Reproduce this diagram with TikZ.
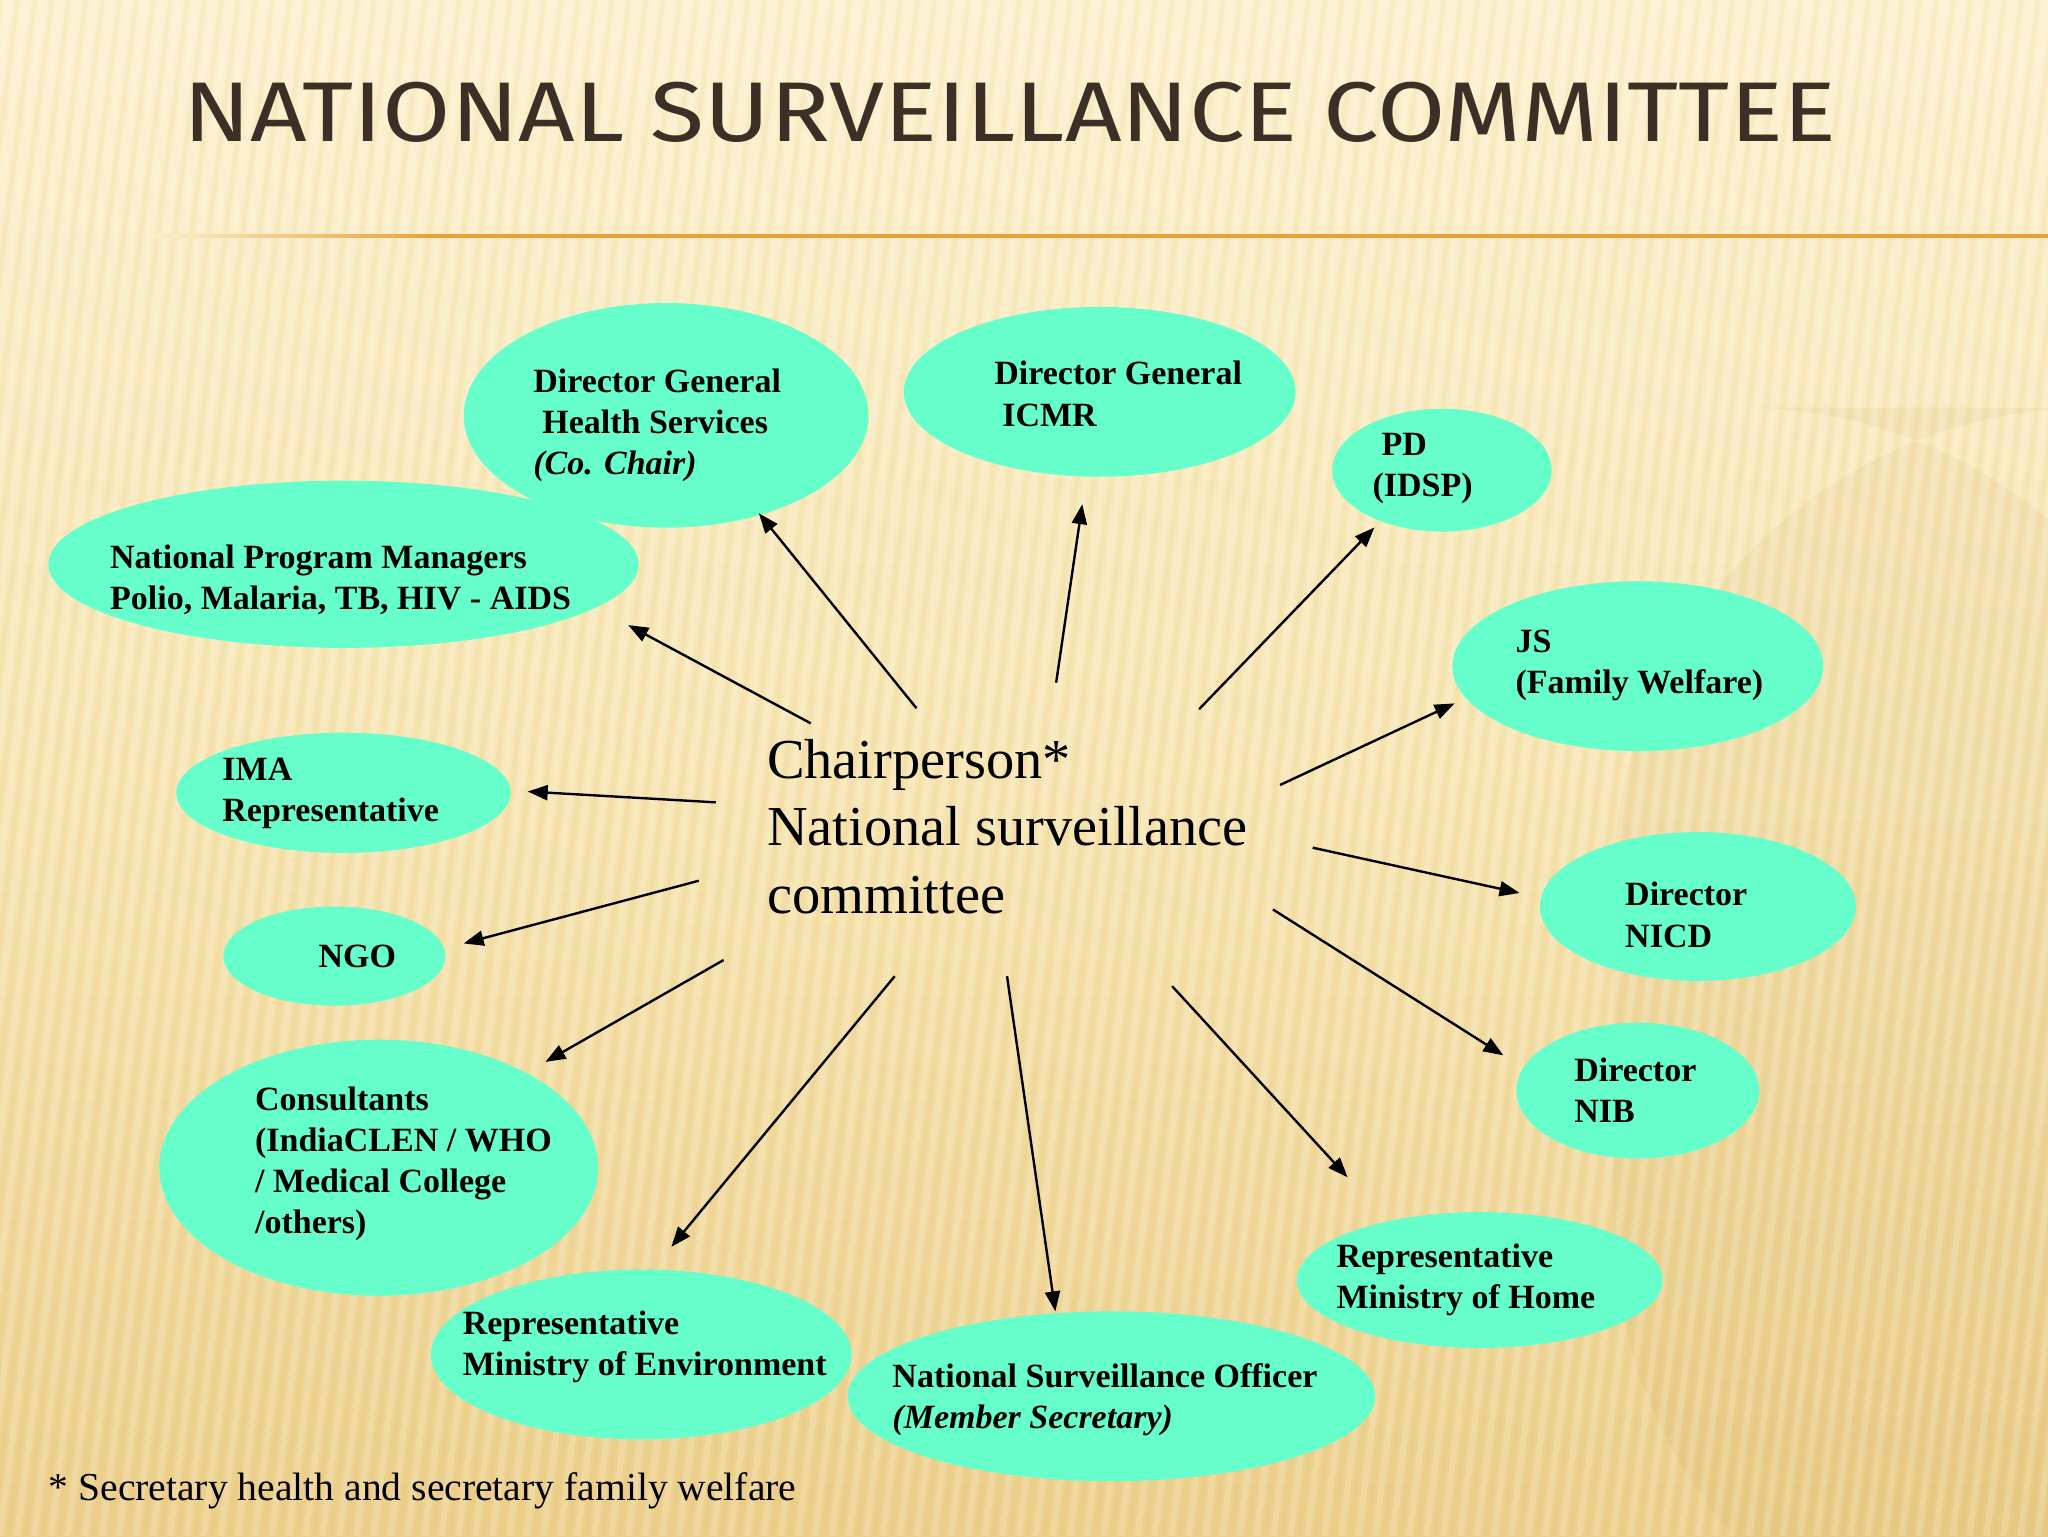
\documentclass[tikz,border=0pt]{standalone}
\usepackage{graphicx}
\usepackage{fontspec}
\setmainfont{Liberation Serif}
\newfontfamily\titlefont{Fira Sans}
\usetikzlibrary{shapes.geometric,arrows.meta}
\definecolor{aqua}{RGB}{102,255,204}
\definecolor{bgtop}{RGB}{252,241,206}
\definecolor{bgmid}{RGB}{247,229,178}
\definecolor{bgbot}{RGB}{236,207,138}
\definecolor{orangeline}{RGB}{232,161,58}
\definecolor{titlebrown}{RGB}{60,48,38}
\definecolor{shadetan}{RGB}{200,160,80}
\definecolor{stripedark}{RGB}{214,180,110}
\tikzset{
  ell/.style={ellipse, fill=aqua, inner sep=0pt, draw=none},
  lbl/.style={anchor=west, align=left, inner sep=0pt,
    font=\fontsize{17pt}{20.6pt}\selectfont\bfseries},
  conn/.style={-{Triangle[length=10pt,width=7.5pt]}, line width=1.2pt, black},
}
\begin{document}
\begin{tikzpicture}[x=0.65306pt,y=-0.65306pt]
\useasboundingbox (0,0) rectangle (1568,1176);
% background
\shade[top color=bgtop, bottom color=bgbot, middle color=bgmid] (0,0) rectangle (1568,1176);
\begin{scope}
  \clip (0,0) rectangle (1568,1176);
  \fill[shadetan, opacity=0.10, rounded corners=240pt] (1235,312) rectangle (1700,1300);
  \foreach \k in {-14,...,122} {
    \draw[white, opacity=0.18, line width=3.2pt] (\k*13,1176) -- (\k*13+150,0);
    \draw[stripedark, opacity=0.09, line width=2.2pt] (\k*13+6.5,1176) -- (\k*13+156.5,0);
  }
\end{scope}
% title and rule
\node[anchor=base west, inner sep=0pt, text=titlebrown] (title) at (140,108)
  {\resizebox{826pt}{29.7pt}{\titlefont NATIONAL SURVEILLANCE COMMITTEE}};
\shade[left color=bgtop, right color=orangeline] (112,179.5) rectangle (330,182);
\fill[orangeline] (330,179.5) rectangle (1568,182);

% ellipses
\node[ell, minimum width=202.4pt, minimum height=112.3pt] (dghs) at (510,318) {};
\node[ell, minimum width=295.2pt, minimum height=83.6pt] (npm) at (263,432) {};
\node[ell, minimum width=195.9pt, minimum height=84.9pt] (icmr) at (842,300) {};
\node[ell, minimum width=109.7pt, minimum height=61.4pt] (pd) at (1104,360) {};
\node[ell, minimum width=185.5pt, minimum height=84.9pt] (js) at (1254,510) {};
\node[ell, minimum width=167.2pt, minimum height=60.1pt] (ima) at (263,607) {};
\node[ell, minimum width=111.0pt, minimum height=49.6pt] (ngo) at (256,732) {};
\node[ell, minimum width=158.0pt, minimum height=74.4pt] (nicd) at (1300,694) {};
\node[ell, minimum width=121.5pt, minimum height=67.9pt] (nib) at (1254,835) {};
\node[ell, minimum width=219.4pt, minimum height=128.0pt] (cons) at (290,894) {};
\node[ell, minimum width=182.9pt, minimum height=67.9pt] (home) at (1133,980) {};
\node[ell, minimum width=210.3pt, minimum height=84.9pt] (env) at (491,1037) {};
\node[ell, minimum width=263.8pt, minimum height=84.9pt] (nso) at (851,1069) {};

% labels
\node[lbl] (dghs-t) at (408,325.7) {Director General\\\hspace*{4.5pt}Health Services\\\textit{(Co. Chair)}};
\node[lbl] (npm-t) at (84,444) {National Program Managers\\Polio, Malaria, TB, HIV - AIDS};
\node[lbl] (icmr-t) at (761,301.5) {Director General\\\hspace*{4pt}ICMR};
\node[lbl] (pd-t) at (1050.5,358.7) {\hspace*{4.6pt}PD\\(IDSP)};
\node[lbl] (js-t) at (1160,509.3) {JS\\(Family Welfare)};
\node[lbl] (ima-t) at (170,607.7) {IMA\\Representative};
\node[lbl] (ngo-t) at (243.6,732) {NGO};
\node[lbl] (nicd-t) at (1244,700.5) {Director\\NICD};
\node[lbl] (nib-t) at (1205,834.7) {Director\\NIB};
\node[lbl] (cons-t) at (195,890.9) {Consultants\\(IndiaCLEN / WHO\\/ Medical College\\/others)};
\node[lbl] (home-t) at (1023,980) {Representative\\Ministry of Home};
\node[lbl] (env-t) at (354,1031) {Representative\\Ministry of Environment};
\node[lbl] (nso-t) at (683,1071.7) {National Surveillance Officer\\\textit{(Member Secretary)}};

% centre
\node[anchor=west, align=left, inner sep=0pt, font=\fontsize{28.2pt}{33.6pt}\selectfont]
  (chair) at (587,632.8) {Chairperson*\\National surveillance\\committee};

% footnote
\node[anchor=base west, inner sep=0pt, font=\fontsize{19.8pt}{24pt}\selectfont]
  (note) at (37,1149) {* Secretary health and secretary family welfare};

% connector end points
\coordinate (npm-s) at (620.7,553.8);   \coordinate (npm-e) at (481,478.6);
\coordinate (dghs-s) at (701.7,542.3);  \coordinate (dghs-e) at (581,393);
\coordinate (icmr-s) at (808.6,522.7);  \coordinate (icmr-e) at (828.6,386);
\coordinate (pd-s) at (918,543);        \coordinate (pd-e) at (1052.3,403.8);
\coordinate (js-s) at (980,601);        \coordinate (js-e) at (1113.7,538.5);
\coordinate (ima-s) at (548,614.3);     \coordinate (ima-e) at (404,606);
\coordinate (ngo-s) at (535,674.3);     \coordinate (ngo-e) at (355,722.3);
\coordinate (cons-s) at (554,735);      \coordinate (cons-e) at (417.6,813);
\coordinate (env-s) at (685,747.4);     \coordinate (env-e) at (514,954.6);
\coordinate (nso-s) at (771,747.4);     \coordinate (nso-e) at (808,1004);
\coordinate (home-s) at (897.4,755);    \coordinate (home-e) at (1031.8,901.4);
\coordinate (nib-s) at (974.6,696.3);   \coordinate (nib-e) at (1151,808);
\coordinate (nicd-s) at (1005,649);     \coordinate (nicd-e) at (1163.4,683.7);

\foreach \n in {npm,dghs,icmr,pd,js,ima,ngo,cons,env,nso,home,nib,nicd}
  \draw[conn] (\n-s) -- (\n-e);
\end{tikzpicture}
\end{document}
